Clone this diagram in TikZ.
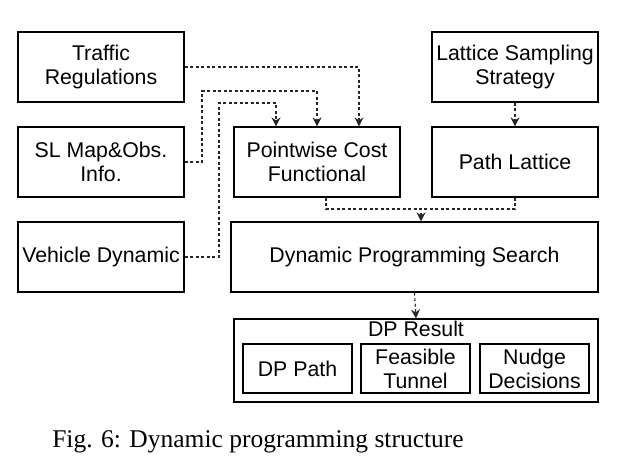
\documentclass[tikz,border=0pt]{standalone}
\usepackage{fontspec}
\setmainfont{Liberation Sans}
\newfontfamily\capfont{Liberation Serif}
\usetikzlibrary{arrows.meta, positioning, calc}

\begin{document}
\begin{tikzpicture}[
  x=1pt, y=-1pt,
  blk/.style={draw, line width=1.1pt, minimum width=166pt, minimum height=70pt, align=center, inner sep=2pt, font=\fontsize{21.3}{24}\selectfont},
  sub/.style={draw, line width=1.1pt, minimum width=109pt, minimum height=49pt, align=center, inner sep=1pt, font=\fontsize{21.3}{24}\selectfont},
  link/.style={draw=black!85, line width=1.1pt, dash pattern=on 3pt off 2.5pt, -{Stealth[length=9pt, width=9pt]}}
]
  \useasboundingbox (0,0) rectangle (627,463);

  % inputs
  \node[blk] (trafreg) at (101, 67) {Traffic\\Regulations};
  \node[blk] (slmap) at (101, 162) {SL Map\&Obs.\\Info.};
  \node[blk] (vehdyn) at (101, 257) {Vehicle Dynamic};
  \node[blk] (costfun) at (317, 162) {Pointwise Cost\\Functional};
  \node[blk] (latsamp) at (515, 67) {Lattice Sampling\\Strategy};
  \node[blk] (pathlat) at (515, 162) {Path Lattice};
  \node[blk, minimum width=367pt] (dpsearch) at (414.5, 257) {Dynamic Programming Search};

  % result
  \node[draw, line width=1.1pt, minimum width=364pt, minimum height=83pt] (dpresult) at (416, 360.5) {};
  \node[font=\fontsize{21.3}{24}\selectfont, inner sep=0pt] (dpreslab) at (416, 329) {DP Result};
  \node[sub] (dppath) at (297.5, 368.5) {DP Path};
  \node[sub] (tunnel) at (415.5, 368.5) {Feasible\\Tunnel};
  \node[sub] (nudge) at (534.5, 368.5) {Nudge\\Decisions};

  \coordinate (merge) at (421, 209);

  \draw[link] (trafreg.east) -| ($(costfun.north)+(42,0)$);
  \draw[link] (slmap.east) -| (202, 91) -| (costfun.north);
  \draw[link] (vehdyn.east) -| (219, 103) -| ($(costfun.north)+(-41,0)$);
  \draw[link] (latsamp.south) -- (pathlat.north);
  \draw[link] ($(costfun.south)+(9,0)$) |- (merge) -- (merge |- dpsearch.north);
  \draw[link, -] (pathlat.south) |- (merge);
  \draw[link] (dpsearch.south) -- (dpresult.north);

  \node[font=\capfont\fontsize{25.5}{28}\selectfont, inner sep=0pt, anchor=base] (caption) at (258, 447) {Fig. 6: Dynamic programming structure};
\end{tikzpicture}
\end{document}
